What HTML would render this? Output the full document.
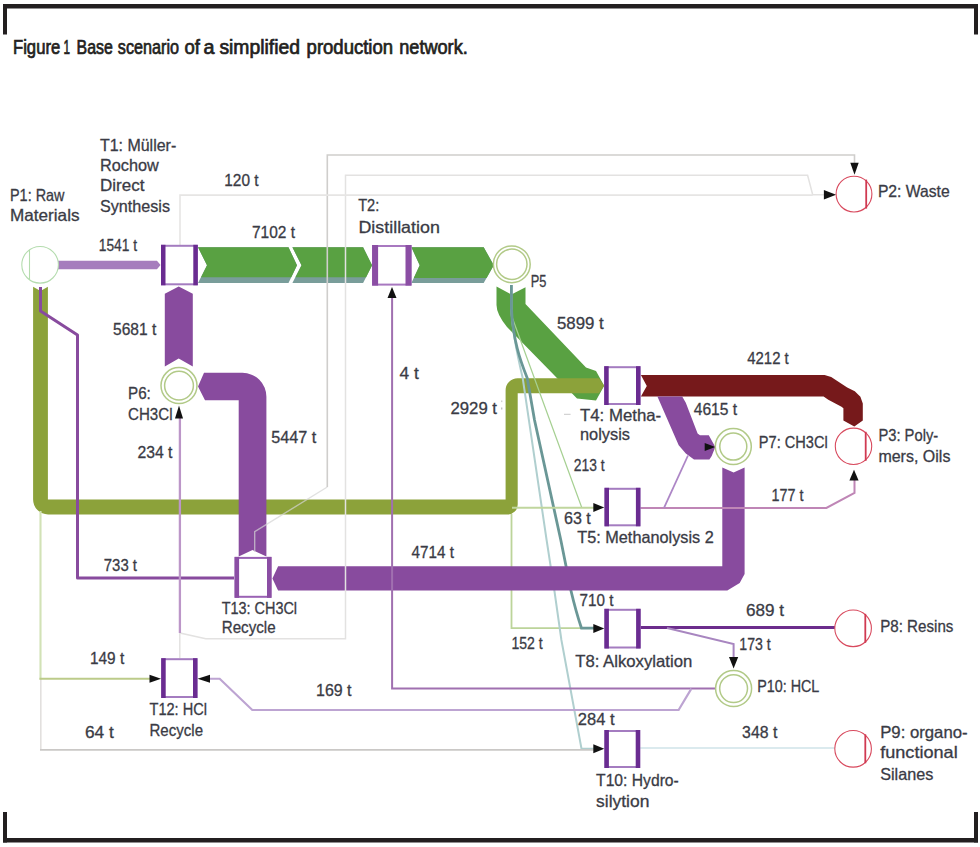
<!DOCTYPE html>
<html><head><meta charset="utf-8">
<style>
html,body{margin:0;padding:0;background:#fff;width:980px;height:847px;overflow:hidden}
svg{display:block}
text{font-family:"Liberation Sans",sans-serif;fill:#3a3b45;font-size:16.5px;stroke:#3a3b45;stroke-width:0.3}
.ti{font-size:19.5px;fill:#231f20;stroke:#231f20;stroke-width:0.7}
</style></head><body>
<svg width="980" height="847" viewBox="0 0 980 847">
<g fill="#231f20"><rect x="3" y="4" width="975" height="4.5"/><rect x="3" y="4" width="4" height="30.5"/><rect x="974" y="4" width="4" height="30.5"/><rect x="3" y="838" width="975" height="4.5"/><rect x="3" y="812" width="4" height="30.5"/><rect x="974" y="812" width="4" height="30.5"/></g>
<text class="ti" x="13.0" y="53.6" textLength="47.2" lengthAdjust="spacingAndGlyphs">Figure</text>
<text class="ti" x="63.5" y="53.6" textLength="6.5" lengthAdjust="spacingAndGlyphs">1</text>
<text class="ti" x="76.6" y="53.6" textLength="36.3" lengthAdjust="spacingAndGlyphs">Base</text>
<text class="ti" x="117.8" y="53.6" textLength="61.2" lengthAdjust="spacingAndGlyphs">scenario</text>
<text class="ti" x="184.4" y="53.6" textLength="15.4" lengthAdjust="spacingAndGlyphs">of</text>
<text class="ti" x="203.5" y="53.6" textLength="11.0" lengthAdjust="spacingAndGlyphs">a</text>
<text class="ti" x="219.4" y="53.6" textLength="80.6" lengthAdjust="spacingAndGlyphs">simplified</text>
<text class="ti" x="306.6" y="53.6" textLength="86.5" lengthAdjust="spacingAndGlyphs">production</text>
<text class="ti" x="399.2" y="53.6" textLength="68.6" lengthAdjust="spacingAndGlyphs">network.</text>
<polygon fill="#799d9a" points="198.0,247.3 288.5,247.3 297.0,265.2 288.5,283.1 198.0,283.1 207.0,265.2"/>
<polygon fill="#59a142" points="198.0,247.3 288.5,247.3 297.0,265.2 291.3,277.2 201.0,277.2 207.0,265.2"/>
<polygon fill="#799d9a" points="292.4,247.3 363.1,247.3 372.1,265.2 363.1,283.1 292.4,283.1 301.5,265.2"/>
<polygon fill="#59a142" points="292.4,247.3 363.1,247.3 372.1,265.2 366.1,277.2 295.4,277.2 301.5,265.2"/>
<polygon fill="#799d9a" points="411.4,247.3 483.7,247.3 493.8,265.2 483.7,283.1 411.4,283.1 419.7,265.2"/>
<polygon fill="#59a142" points="411.4,247.3 483.7,247.3 493.8,265.2 486.6,278.0 413.8,278.0 419.7,265.2"/>
<path fill="#59a142" d="M496.5 286.5 L511.4 294.6 L525.5 287.2 V304 L586 367.5 L596 371 L604.2 385.8 L596 400.6 L577 398.5 L507 327 Q496.5 314 496.5 305 Z"/>
<path fill="#8ca23a" d="M33.1 286.7 L40.5 291 L47.9 286.7 V499.5 H505.6 V390.3 A12 12 0 0 1 517.6 378.3 H599 L604.2 385.8 L599 393.3 H517.7 V504.5 A10 10 0 0 1 507.7 514.5 H48.1 A15 15 0 0 1 33.1 499.5 Z"/>
<path d="M511.5 514 V628.2 H594" fill="none" stroke="#bcd49a" stroke-width="1.8" stroke-linejoin="miter"/>
<path d="M511.4 290 L511.6 316 L581.7 507.4" fill="none" stroke="#a6d092" stroke-width="1.3" stroke-linejoin="miter"/>
<path d="M511.4 285 V308 C512 330 516 350 522.7 378 L546.6 540 L554.3 590 L561.4 640 L581.5 748.8 H594" fill="none" stroke="#b0cfcf" stroke-width="2" stroke-linejoin="miter"/>
<path d="M511.4 285 V308 C513 340 520 360 527.2 378 L534.5 420 L560.8 540 L570.8 590 Q576 612 581.5 628.2 H594" fill="none" stroke="#6a9796" stroke-width="2.8" stroke-linejoin="miter"/>
<polygon fill="#a67dbd" points="58.0,260.7 157.0,260.7 160.5,265.0 157.0,269.3 58.0,269.3"/>
<polygon fill="#884b9e" points="178.7,286.4 192.8,293.7 192.8,366.5 178.7,358.4 164.8,366.5 164.8,293.7"/>
<path fill="#884b9e" d="M198 386.5 L204 372.8 H242.4 A24 24 0 0 1 266.4 396.8 V556.5 L252.5 550 L238.7 556.5 V400.3 H205 Z"/>
<path fill="#884b9e" d="M722.3 467.4 L733.6 472.4 L744.6 467.4 V574 L739.7 583.1 L727.3 590.5 H278.1 L272.4 578.4 L278.1 566.2 H722.3 Z"/>
<path fill="#76191b" d="M640.9 375.1 H824.6 L831.2 377 L847.2 387.4 L854.8 391.2 L860.4 396.8 L862.8 403.4 V420.4 L854.3 426.6 L843.4 420.4 V408.2 L841.5 406.7 L828.3 399.7 L823.6 396.6 H640.9 L646.8 386 Z"/>
<path fill="#884b9e" d="M657.4 396.6 H682.2 L685.8 402.8 L697.6 433.5 L700 435.2 H708.8 L711.7 440.6 L715.3 447 L711.7 455.9 L709.4 459.4 H694 L685.8 453.5 L678.7 445.3 Z"/>
<g fill="none"><path d="M327.3 487 V155 H854.5 V165" stroke="#cfcecc" stroke-width="1.6"/><path d="M327.3 487 L254.7 531.7 V552" stroke="#d4d4d4" stroke-width="1.4" stroke-opacity="0.7"/><path d="M179.8 658 V633 L205.8 638.8 H345.5 V175.2 H807.6 L812.7 194.8 H826" stroke="#e3e2e1" stroke-width="1.5"/><path d="M180 245 V195.1 H812.7" stroke="#e6e5e4" stroke-width="1.6"/><path d="M40.8 679 V749.9" stroke="#e2e0de" stroke-width="1.6"/><path d="M40 749.9 H594" stroke="#cac8c6" stroke-width="1.7"/></g>
<path d="M40.5 511 V679.7" fill="none" stroke="#d2e2b6" stroke-width="2.1" stroke-linejoin="miter"/>
<path d="M39.5 678.7 H150" fill="none" stroke="#bccb8a" stroke-width="2" stroke-linejoin="miter"/>
<path d="M512 507.8 H594" fill="none" stroke="#c0d69e" stroke-width="2" stroke-linejoin="miter"/>
<path d="M640.2 748 H835.5" fill="none" stroke="#cfe3e8" stroke-width="1.3" stroke-linejoin="miter"/>
<path d="M234 578 H77.5 V335 L40.5 311 V287" fill="none" stroke="#884b9e" stroke-width="3" stroke-linejoin="round"/>
<path d="M179.9 418 V633" fill="none" stroke="#bc96c8" stroke-width="2.3" stroke-linejoin="miter"/>
<path d="M392.1 298 V688.6 H715.4" fill="none" stroke="#a070b0" stroke-width="2" stroke-linejoin="miter"/>
<path d="M691.4 688.6 L678.6 710 H252.3 L219.7 678.75 H209" fill="none" stroke="#bda4d2" stroke-width="2.2" stroke-linejoin="miter"/>
<path d="M640.6 627.6 H835.4" fill="none" stroke="#6c2d8c" stroke-width="3" stroke-linejoin="miter"/>
<path d="M667 628 L733.6 644 V658" fill="none" stroke="#a886c0" stroke-width="2" stroke-linejoin="miter"/>
<path d="M640.4 507.9 H826.4 L854.5 493 V480" fill="none" stroke="#bf86b6" stroke-width="2" stroke-linejoin="miter"/>
<path d="M664 507.9 L688 455.5" fill="none" stroke="#ad86c6" stroke-width="1.8" stroke-linejoin="miter"/>
<line x1="564" y1="414.3" x2="570.6" y2="414.3" stroke="#c8c8c8" stroke-width="1"/>
<rect x="501" y="400.5" width="1.4" height="1.6" fill="#d0d0d0"/><rect x="501" y="407.5" width="1.4" height="2" fill="#c0c0c0"/>
<polygon fill="#111" points="854.5,174.7 850.3,162.7 858.7,162.7"/>
<polygon fill="#111" points="836.1,194.8 823.9,190.0 823.9,199.6"/>
<polygon fill="#111" points="392.0,287.0 387.5,298.0 396.5,298.0"/>
<polygon fill="#111" points="179.0,405.5 175.0,418.5 183.0,418.5"/>
<polygon fill="#111" points="854.0,469.8 849.4,480.4 858.6,480.4"/>
<polygon fill="#111" points="733.6,668.6 729.0,657.1 738.2,657.1"/>
<polygon fill="#111" points="604.3,507.4 593.3,502.9 593.3,511.9"/>
<polygon fill="#111" points="604.3,628.4 593.3,623.9 593.3,632.9"/>
<polygon fill="#111" points="604.3,748.8 593.3,744.3 593.3,753.3"/>
<polygon fill="#111" points="161.0,678.8 149.5,674.8 149.5,682.8"/>
<polygon fill="#111" points="197.5,678.8 210.0,674.8 210.0,682.8"/>
<polygon fill="#111" points="715.3,447.0 704.7,443.1 704.7,450.9"/>
<rect x="162.0" y="245.8" width="34.8" height="38.5" fill="#fff" stroke="#a47cc0" stroke-width="2"/>
<rect x="161.0" y="244.8" width="4.5" height="40.5" fill="#6a2c91"/>
<rect x="193.3" y="244.8" width="4.5" height="40.5" fill="#6a2c91"/>
<rect x="373.1" y="246.0" width="37.4" height="38.6" fill="#fff" stroke="#a878c0" stroke-width="2"/>
<rect x="372.1" y="245.0" width="6.0" height="40.6" fill="#8b4ea4"/>
<rect x="405.5" y="245.0" width="6.0" height="40.6" fill="#8b4ea4"/>
<rect x="605.2" y="367.2" width="34.2" height="36.8" fill="#fff" stroke="#a47cc0" stroke-width="2"/>
<rect x="604.2" y="366.2" width="4.5" height="38.8" fill="#6a2c91"/>
<rect x="636.0" y="366.2" width="4.5" height="38.8" fill="#6a2c91"/>
<rect x="605.5" y="488.8" width="33.9" height="36.5" fill="#fff" stroke="#a47cc0" stroke-width="2"/>
<rect x="604.5" y="487.8" width="4.5" height="38.5" fill="#6a2c91"/>
<rect x="635.9" y="487.8" width="4.5" height="38.5" fill="#6a2c91"/>
<rect x="605.4" y="609.8" width="34.2" height="37.7" fill="#fff" stroke="#a47cc0" stroke-width="2"/>
<rect x="604.4" y="608.8" width="4.5" height="39.7" fill="#6a2c91"/>
<rect x="636.1" y="608.8" width="4.5" height="39.7" fill="#6a2c91"/>
<rect x="605.4" y="731.0" width="33.8" height="36.0" fill="#fff" stroke="#a47cc0" stroke-width="2"/>
<rect x="604.4" y="730.0" width="4.5" height="38.0" fill="#6a2c91"/>
<rect x="635.7" y="730.0" width="4.5" height="38.0" fill="#6a2c91"/>
<rect x="162.2" y="659.2" width="34.2" height="37.8" fill="#fff" stroke="#a47cc0" stroke-width="2"/>
<rect x="161.2" y="658.2" width="4.5" height="39.8" fill="#6a2c91"/>
<rect x="193.0" y="658.2" width="4.5" height="39.8" fill="#6a2c91"/>
<rect x="235.6" y="557.9" width="34.9" height="38.9" fill="#fff" stroke="#9a62b4" stroke-width="2"/>
<rect x="234.6" y="556.9" width="4.5" height="40.9" fill="#8b4ea4"/>
<rect x="267.0" y="556.9" width="4.5" height="40.9" fill="#8b4ea4"/>
<circle cx="854.0" cy="194.1" r="17.9" fill="#fff" stroke="#d84a5e" stroke-width="1.1"/>
<line x1="866.2" y1="179.6" x2="866.2" y2="208.6" stroke="#d03a52" stroke-width="1.8"/>
<circle cx="853.5" cy="446.3" r="18.2" fill="#fff" stroke="#d84a5e" stroke-width="1.1"/>
<line x1="865.7" y1="431.8" x2="865.7" y2="460.8" stroke="#d03a52" stroke-width="1.8"/>
<circle cx="853.1" cy="628.3" r="18.3" fill="#fff" stroke="#d84a5e" stroke-width="1.1"/>
<line x1="865.3" y1="613.8" x2="865.3" y2="642.8" stroke="#d03a52" stroke-width="1.8"/>
<circle cx="853.1" cy="748.8" r="18.3" fill="#fff" stroke="#d84a5e" stroke-width="1.1"/>
<line x1="865.3" y1="734.3" x2="865.3" y2="763.3" stroke="#d03a52" stroke-width="1.8"/>
<circle cx="511.8" cy="264.3" r="18.4" fill="#fff" stroke="#b2ca88" stroke-width="1.5"/>
<circle cx="511.8" cy="264.3" r="15.2" fill="none" stroke="#b2ca88" stroke-width="1.5"/>
<circle cx="179.0" cy="385.6" r="18.0" fill="#fff" stroke="#b2ca88" stroke-width="1.5"/>
<circle cx="179.0" cy="385.6" r="14.4" fill="none" stroke="#b2ca88" stroke-width="1.5"/>
<circle cx="733.3" cy="446.6" r="18.0" fill="#fff" stroke="#b2ca88" stroke-width="1.5"/>
<circle cx="733.3" cy="446.6" r="13.5" fill="none" stroke="#b2ca88" stroke-width="1.5"/>
<circle cx="733.6" cy="688.6" r="18.0" fill="#fff" stroke="#b2ca88" stroke-width="1.5"/>
<circle cx="733.6" cy="688.6" r="13.9" fill="none" stroke="#b2ca88" stroke-width="1.5"/>
<circle cx="40.1" cy="264.8" r="18.3" fill="#fff" stroke="#b4dcae" stroke-width="1.1"/>
<line x1="29.5" y1="250" x2="29.5" y2="279.6" stroke="#b4dcae" stroke-width="1.1"/>
<text x="10.0" y="200.5" textLength="54.5" lengthAdjust="spacingAndGlyphs">P1: Raw</text>
<text x="10.0" y="220.5" textLength="69.5" lengthAdjust="spacingAndGlyphs">Materials</text>
<text x="100.0" y="150.5" textLength="76.2" lengthAdjust="spacingAndGlyphs">T1: Müller-</text>
<text x="100.0" y="170.5" textLength="58.8" lengthAdjust="spacingAndGlyphs">Rochow</text>
<text x="100.0" y="191.2" textLength="44.5" lengthAdjust="spacingAndGlyphs">Direct</text>
<text x="100.0" y="212.0" textLength="70.0" lengthAdjust="spacingAndGlyphs">Synthesis</text>
<text x="98.8" y="251.2" textLength="38.2" lengthAdjust="spacingAndGlyphs">1541 t</text>
<text x="224.3" y="186.0" textLength="34.3" lengthAdjust="spacingAndGlyphs">120 t</text>
<text x="252.0" y="237.9" textLength="43.0" lengthAdjust="spacingAndGlyphs">7102 t</text>
<text x="358.2" y="211.0" textLength="21.1" lengthAdjust="spacingAndGlyphs">T2:</text>
<text x="358.4" y="232.5" textLength="81.5" lengthAdjust="spacingAndGlyphs">Distillation</text>
<text x="877.9" y="196.7" textLength="71.8" lengthAdjust="spacingAndGlyphs">P2: Waste</text>
<text x="530.8" y="287.0" textLength="15.7" lengthAdjust="spacingAndGlyphs">P5</text>
<text x="557.0" y="328.8" textLength="46.8" lengthAdjust="spacingAndGlyphs">5899 t</text>
<text x="113.0" y="334.5" textLength="43.2" lengthAdjust="spacingAndGlyphs">5681 t</text>
<text x="128.0" y="398.8" textLength="22.8" lengthAdjust="spacingAndGlyphs">P6:</text>
<text x="128.0" y="419.5" textLength="44.5" lengthAdjust="spacingAndGlyphs">CH3Cl</text>
<text x="137.5" y="457.5" textLength="35.0" lengthAdjust="spacingAndGlyphs">234 t</text>
<text x="271.2" y="443.0" textLength="45.0" lengthAdjust="spacingAndGlyphs">5447 t</text>
<text x="399.5" y="379.2" textLength="19.2" lengthAdjust="spacingAndGlyphs">4 t</text>
<text x="450.5" y="413.8" textLength="46.5" lengthAdjust="spacingAndGlyphs">2929 t</text>
<text x="580.0" y="421.2" textLength="81.2" lengthAdjust="spacingAndGlyphs">T4: Metha-</text>
<text x="580.0" y="440.0" textLength="50.0" lengthAdjust="spacingAndGlyphs">nolysis</text>
<text x="747.3" y="364.2" textLength="41.4" lengthAdjust="spacingAndGlyphs">4212 t</text>
<text x="693.8" y="415.3" textLength="43.3" lengthAdjust="spacingAndGlyphs">4615 t</text>
<text x="758.8" y="448.4" textLength="68.9" lengthAdjust="spacingAndGlyphs">P7: CH3Cl</text>
<text x="878.4" y="441.2" textLength="59.8" lengthAdjust="spacingAndGlyphs">P3: Poly-</text>
<text x="878.4" y="461.6" textLength="72.0" lengthAdjust="spacingAndGlyphs">mers, Oils</text>
<text x="573.8" y="470.8" textLength="30.7" lengthAdjust="spacingAndGlyphs">213 t</text>
<text x="771.6" y="501.2" textLength="31.9" lengthAdjust="spacingAndGlyphs">177 t</text>
<text x="564.0" y="524.0" textLength="26.8" lengthAdjust="spacingAndGlyphs">63 t</text>
<text x="577.3" y="542.7" textLength="136.4" lengthAdjust="spacingAndGlyphs">T5: Methanolysis 2</text>
<text x="103.8" y="571.2" textLength="33.2" lengthAdjust="spacingAndGlyphs">733 t</text>
<text x="411.6" y="558.2" textLength="42.3" lengthAdjust="spacingAndGlyphs">4714 t</text>
<text x="221.7" y="613.5" textLength="75.4" lengthAdjust="spacingAndGlyphs">T13: CH3Cl</text>
<text x="221.7" y="633.3" textLength="53.9" lengthAdjust="spacingAndGlyphs">Recycle</text>
<text x="579.6" y="605.5" textLength="33.8" lengthAdjust="spacingAndGlyphs">710 t</text>
<text x="746.1" y="615.7" textLength="38.0" lengthAdjust="spacingAndGlyphs">689 t</text>
<text x="739.3" y="650.0" textLength="31.4" lengthAdjust="spacingAndGlyphs">173 t</text>
<text x="880.2" y="631.9" textLength="73.2" lengthAdjust="spacingAndGlyphs">P8: Resins</text>
<text x="511.4" y="648.5" textLength="31.2" lengthAdjust="spacingAndGlyphs">152 t</text>
<text x="90.0" y="663.8" textLength="34.2" lengthAdjust="spacingAndGlyphs">149 t</text>
<text x="575.2" y="667.1" textLength="117.1" lengthAdjust="spacingAndGlyphs">T8: Alkoxylation</text>
<text x="757.2" y="691.6" textLength="62.1" lengthAdjust="spacingAndGlyphs">P10: HCL</text>
<text x="316.0" y="695.6" textLength="35.5" lengthAdjust="spacingAndGlyphs">169 t</text>
<text x="149.5" y="715.0" textLength="57.5" lengthAdjust="spacingAndGlyphs">T12: HCl</text>
<text x="149.5" y="736.2" textLength="53.5" lengthAdjust="spacingAndGlyphs">Recycle</text>
<text x="85.0" y="737.5" textLength="28.8" lengthAdjust="spacingAndGlyphs">64 t</text>
<text x="577.8" y="724.5" textLength="36.7" lengthAdjust="spacingAndGlyphs">284 t</text>
<text x="742.1" y="738.3" textLength="35.2" lengthAdjust="spacingAndGlyphs">348 t</text>
<text x="880.2" y="738.1" textLength="87.4" lengthAdjust="spacingAndGlyphs">P9: organo-</text>
<text x="880.2" y="758.2" textLength="77.5" lengthAdjust="spacingAndGlyphs">functional</text>
<text x="880.2" y="779.5" textLength="53.1" lengthAdjust="spacingAndGlyphs">Silanes</text>
<text x="596.1" y="786.3" textLength="82.7" lengthAdjust="spacingAndGlyphs">T10: Hydro-</text>
<text x="596.1" y="806.5" textLength="53.3" lengthAdjust="spacingAndGlyphs">silytion</text>
</svg></body></html>
